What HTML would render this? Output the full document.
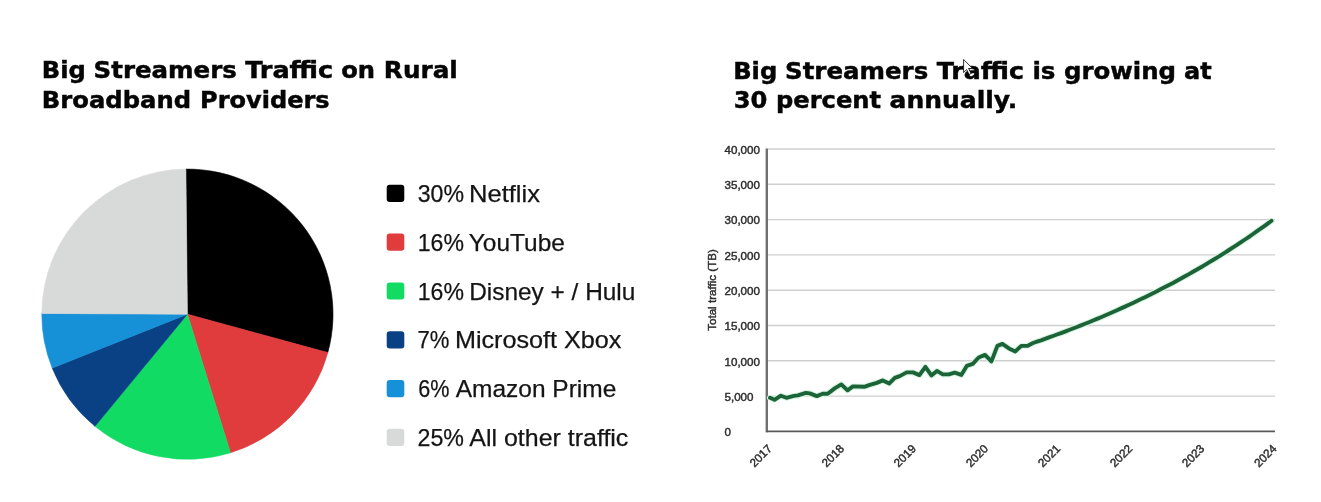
<!DOCTYPE html>
<html><head><meta charset="utf-8"><style>
html,body{margin:0;padding:0;background:#fff;}
body{width:1321px;height:502px;overflow:hidden;}
svg{display:block;}
.t{font-family:"DejaVu Sans",sans-serif;font-weight:bold;font-size:22.8px;fill:#050505;stroke:#050505;stroke-width:0.45px;}
.lg{font-family:"Liberation Sans",sans-serif;font-size:24.5px;fill:#141414;stroke:#141414;stroke-width:0.25px;}
.ax{font-family:"Liberation Sans",sans-serif;font-size:11.6px;fill:#2e2e2e;stroke:#2e2e2e;stroke-width:0.45px;}
</style></head><body>
<svg width="1321" height="502" viewBox="0 0 1321 502">
<rect width="1321" height="502" fill="#ffffff"/>
<g class="t">
<text x="41.85" y="78.4" textLength="44.01" lengthAdjust="spacingAndGlyphs">Big</text>
<text x="93.61" y="78.4" textLength="143.24" lengthAdjust="spacingAndGlyphs">Streamers</text>
<text x="245.20" y="78.4" textLength="88.05" lengthAdjust="spacingAndGlyphs">Traffic</text>
<text x="341.20" y="78.4" textLength="33.84" lengthAdjust="spacingAndGlyphs">on</text>
<text x="383.89" y="78.4" textLength="73.96" lengthAdjust="spacingAndGlyphs">Rural</text>
<text x="41.85" y="107.7" textLength="149.16" lengthAdjust="spacingAndGlyphs">Broadband</text>
<text x="200.04" y="107.7" textLength="129.61" lengthAdjust="spacingAndGlyphs">Providers</text>
<text x="733.15" y="78.5" textLength="44.11" lengthAdjust="spacingAndGlyphs">Big</text>
<text x="785.09" y="78.5" textLength="143.11" lengthAdjust="spacingAndGlyphs">Streamers</text>
<text x="936.73" y="78.5" textLength="87.15" lengthAdjust="spacingAndGlyphs">Traffic</text>
<text x="1032.42" y="78.5" textLength="23.05" lengthAdjust="spacingAndGlyphs">is</text>
<text x="1064.00" y="78.5" textLength="112.10" lengthAdjust="spacingAndGlyphs">growing</text>
<text x="1184.03" y="78.5" textLength="27.62" lengthAdjust="spacingAndGlyphs">at</text>
<text x="733.75" y="107.6" textLength="33.65" lengthAdjust="spacingAndGlyphs">30</text>
<text x="775.95" y="107.6" textLength="105.10" lengthAdjust="spacingAndGlyphs">percent</text>
<text x="889.60" y="107.6" textLength="127.65" lengthAdjust="spacingAndGlyphs">annually.</text>
</g>
<g>
<path d="M187.40,314.20 L185.88,169.11 A145.6,145.1 0 0 1 327.81,352.61 Z" fill="#000000" stroke="#000000" stroke-width="0.6" stroke-linejoin="round"/>
<path d="M187.40,314.20 L327.81,352.61 A145.6,145.1 0 0 1 230.46,452.81 Z" fill="#e03b3d" stroke="#e03b3d" stroke-width="0.6" stroke-linejoin="round"/>
<path d="M187.40,314.20 L230.46,452.81 A145.6,145.1 0 0 1 94.98,426.32 Z" fill="#12db64" stroke="#12db64" stroke-width="0.6" stroke-linejoin="round"/>
<path d="M187.40,314.20 L94.98,426.32 A145.6,145.1 0 0 1 52.21,368.09 Z" fill="#0a4084" stroke="#0a4084" stroke-width="0.6" stroke-linejoin="round"/>
<path d="M187.40,314.20 L52.21,368.09 A145.6,145.1 0 0 1 41.80,313.44 Z" fill="#1690d6" stroke="#1690d6" stroke-width="0.6" stroke-linejoin="round"/>
<path d="M187.40,314.20 L41.80,313.44 A145.6,145.1 0 0 1 185.88,169.11 Z" fill="#d8d9d9" stroke="#d8d9d9" stroke-width="0.6" stroke-linejoin="round"/>
</g>
<g class="lg">
<rect x="386.7" y="184.8" width="17.6" height="17.2" rx="3" fill="#000000" stroke="none"/>
<text x="417.69" y="201.8" textLength="46.25" lengthAdjust="spacingAndGlyphs">30%</text>
<text x="469.01" y="201.8" textLength="71.02" lengthAdjust="spacingAndGlyphs">Netflix</text>
<rect x="386.7" y="233.6" width="17.6" height="17.2" rx="3" fill="#e03b3d" stroke="none"/>
<text x="417.78" y="250.7" textLength="46.15" lengthAdjust="spacingAndGlyphs">16%</text>
<text x="468.75" y="250.7" textLength="96.09" lengthAdjust="spacingAndGlyphs">YouTube</text>
<rect x="386.7" y="282.4" width="17.6" height="17.2" rx="3" fill="#12db64" stroke="none"/>
<text x="417.78" y="299.5" textLength="46.15" lengthAdjust="spacingAndGlyphs">16%</text>
<text x="469.22" y="299.5" textLength="166.08" lengthAdjust="spacingAndGlyphs">Disney + / Hulu</text>
<rect x="386.7" y="331.2" width="17.6" height="17.2" rx="3" fill="#0a4084" stroke="none"/>
<text x="417.55" y="348.3" textLength="31.88" lengthAdjust="spacingAndGlyphs">7%</text>
<text x="454.94" y="348.3" textLength="166.52" lengthAdjust="spacingAndGlyphs">Microsoft Xbox</text>
<rect x="386.7" y="380.0" width="17.6" height="17.2" rx="3" fill="#1690d6" stroke="none"/>
<text x="418.18" y="397.1" textLength="31.24" lengthAdjust="spacingAndGlyphs">6%</text>
<text x="455.72" y="397.1" textLength="160.55" lengthAdjust="spacingAndGlyphs">Amazon Prime</text>
<rect x="386.7" y="428.8" width="17.6" height="17.2" rx="3" fill="#d8d9d9" stroke="none"/>
<text x="417.48" y="445.9" textLength="46.46" lengthAdjust="spacingAndGlyphs">25%</text>
<text x="469.32" y="445.9" textLength="159.04" lengthAdjust="spacingAndGlyphs">All other traffic</text>
</g>
<g>
<line x1="768" y1="396.1" x2="1275" y2="396.1" stroke="#cfcfcf" stroke-width="1.4"/>
<line x1="768" y1="360.8" x2="1275" y2="360.8" stroke="#cfcfcf" stroke-width="1.4"/>
<line x1="768" y1="325.5" x2="1275" y2="325.5" stroke="#cfcfcf" stroke-width="1.4"/>
<line x1="768" y1="290.2" x2="1275" y2="290.2" stroke="#cfcfcf" stroke-width="1.4"/>
<line x1="768" y1="254.9" x2="1275" y2="254.9" stroke="#cfcfcf" stroke-width="1.4"/>
<line x1="768" y1="219.6" x2="1275" y2="219.6" stroke="#cfcfcf" stroke-width="1.4"/>
<line x1="768" y1="184.3" x2="1275" y2="184.3" stroke="#cfcfcf" stroke-width="1.4"/>
<line x1="768" y1="149.0" x2="1275" y2="149.0" stroke="#cfcfcf" stroke-width="1.4"/>
<line x1="766.8" y1="148.5" x2="766.8" y2="432.2" stroke="#707070" stroke-width="2.4"/>
<line x1="766" y1="431.4" x2="1275" y2="431.4" stroke="#5a5a5a" stroke-width="1.6"/>
<path d="M770.0,397.8 L774.5,399.8 L780.9,395.7 L786.4,397.8 L793.9,395.9 L797.9,395.4 L805.8,392.9 L809.8,393.4 L816.8,396.1 L822.8,393.7 L827.7,393.7 L834.7,388.4 L841.3,384.4 L847.5,390.3 L852.9,386.4 L864.9,386.7 L869.9,384.9 L876.8,382.9 L882.8,380.4 L889.3,383.4 L894.8,377.9 L899.7,376.1 L906.7,372.4 L913.0,372.4 L919.4,375.1 L925.4,366.9 L931.4,375.4 L936.9,370.9 L942.8,374.4 L948.8,374.4 L954.8,372.7 L961.3,374.9 L966.8,365.9 L972.7,363.9 L978.7,357.5 L985.0,354.9 L991.4,361.4 L997.4,345.9 L1002.4,343.9 L1008.9,348.4 L1015.3,351.4 L1021.3,345.9 L1027.8,345.7 L1033.0,343.0 L1037.0,341.6 L1041.0,340.3 L1045.0,338.9 L1049.0,337.4 L1053.0,336.0 L1057.0,334.5 L1061.0,333.1 L1065.0,331.6 L1069.0,330.0 L1073.0,328.5 L1077.0,327.0 L1081.0,325.4 L1085.0,323.8 L1089.0,322.2 L1093.0,320.5 L1097.0,318.9 L1101.0,317.2 L1105.0,315.5 L1109.0,313.8 L1113.0,312.0 L1117.0,310.2 L1121.0,308.4 L1125.0,306.6 L1129.0,304.8 L1133.0,302.9 L1137.0,301.0 L1141.0,299.1 L1145.0,297.2 L1149.0,295.2 L1153.0,293.2 L1157.0,291.2 L1161.0,289.1 L1165.0,287.1 L1169.0,285.0 L1173.0,282.9 L1177.0,280.7 L1181.0,278.5 L1185.0,276.3 L1189.0,274.1 L1193.0,271.8 L1197.0,269.5 L1201.0,267.2 L1205.0,264.8 L1209.0,262.4 L1213.0,260.0 L1217.0,257.6 L1221.0,255.1 L1225.0,252.6 L1229.0,250.0 L1233.0,247.4 L1237.0,244.8 L1241.0,242.2 L1245.0,239.5 L1249.0,236.8 L1253.0,234.0 L1257.0,231.2 L1261.0,228.4 L1265.0,225.6 L1269.0,222.7 L1271.5,220.8" fill="none" stroke="#d6f5e1" stroke-width="6" stroke-linejoin="round" stroke-linecap="round"/>
<path d="M770.0,397.8 L774.5,399.8 L780.9,395.7 L786.4,397.8 L793.9,395.9 L797.9,395.4 L805.8,392.9 L809.8,393.4 L816.8,396.1 L822.8,393.7 L827.7,393.7 L834.7,388.4 L841.3,384.4 L847.5,390.3 L852.9,386.4 L864.9,386.7 L869.9,384.9 L876.8,382.9 L882.8,380.4 L889.3,383.4 L894.8,377.9 L899.7,376.1 L906.7,372.4 L913.0,372.4 L919.4,375.1 L925.4,366.9 L931.4,375.4 L936.9,370.9 L942.8,374.4 L948.8,374.4 L954.8,372.7 L961.3,374.9 L966.8,365.9 L972.7,363.9 L978.7,357.5 L985.0,354.9 L991.4,361.4 L997.4,345.9 L1002.4,343.9 L1008.9,348.4 L1015.3,351.4 L1021.3,345.9 L1027.8,345.7 L1033.0,343.0 L1037.0,341.6 L1041.0,340.3 L1045.0,338.9 L1049.0,337.4 L1053.0,336.0 L1057.0,334.5 L1061.0,333.1 L1065.0,331.6 L1069.0,330.0 L1073.0,328.5 L1077.0,327.0 L1081.0,325.4 L1085.0,323.8 L1089.0,322.2 L1093.0,320.5 L1097.0,318.9 L1101.0,317.2 L1105.0,315.5 L1109.0,313.8 L1113.0,312.0 L1117.0,310.2 L1121.0,308.4 L1125.0,306.6 L1129.0,304.8 L1133.0,302.9 L1137.0,301.0 L1141.0,299.1 L1145.0,297.2 L1149.0,295.2 L1153.0,293.2 L1157.0,291.2 L1161.0,289.1 L1165.0,287.1 L1169.0,285.0 L1173.0,282.9 L1177.0,280.7 L1181.0,278.5 L1185.0,276.3 L1189.0,274.1 L1193.0,271.8 L1197.0,269.5 L1201.0,267.2 L1205.0,264.8 L1209.0,262.4 L1213.0,260.0 L1217.0,257.6 L1221.0,255.1 L1225.0,252.6 L1229.0,250.0 L1233.0,247.4 L1237.0,244.8 L1241.0,242.2 L1245.0,239.5 L1249.0,236.8 L1253.0,234.0 L1257.0,231.2 L1261.0,228.4 L1265.0,225.6 L1269.0,222.7 L1271.5,220.8" fill="none" stroke="#1c6338" stroke-width="3.9" stroke-linejoin="round" stroke-linecap="round"/>
</g>
<g class="ax">
<text x="724.5" y="436.1">0</text>
<text x="724.5" y="400.8">5,000</text>
<text x="724.5" y="365.5">10,000</text>
<text x="724.5" y="330.2">15,000</text>
<text x="724.5" y="294.9">20,000</text>
<text x="724.5" y="259.6">25,000</text>
<text x="724.5" y="224.3">30,000</text>
<text x="724.5" y="189.0">35,000</text>
<text x="724.5" y="153.7">40,000</text>
<text transform="translate(772.7,449.5) rotate(-45)" text-anchor="end">2017</text>
<text transform="translate(844.8,449.5) rotate(-45)" text-anchor="end">2018</text>
<text transform="translate(916.8,449.5) rotate(-45)" text-anchor="end">2019</text>
<text transform="translate(988.9,449.5) rotate(-45)" text-anchor="end">2020</text>
<text transform="translate(1061.0,449.5) rotate(-45)" text-anchor="end">2021</text>
<text transform="translate(1133.0,449.5) rotate(-45)" text-anchor="end">2022</text>
<text transform="translate(1205.1,449.5) rotate(-45)" text-anchor="end">2023</text>
<text transform="translate(1277.2,449.5) rotate(-45)" text-anchor="end">2024</text>
<text transform="translate(715.8,290) rotate(-90)" text-anchor="middle">Total traffic (TB)</text>
</g>
<path d="M963.6,59.5 L963.6,72.5 L966.6,69.5 L969.1,74.5 L971.1,73.5 L968.6,68.5 L972.6,68.5 Z" fill="#fff" stroke="#000" stroke-width="0.8" stroke-linejoin="round"/>
</svg>
</body></html>
